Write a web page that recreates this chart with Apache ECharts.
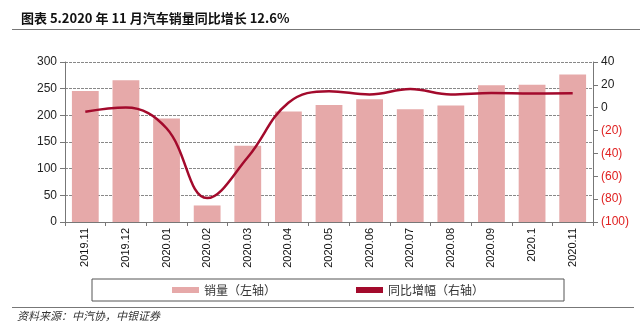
<!DOCTYPE html>
<html><head><meta charset="utf-8">
<script src="https://cdn.jsdelivr.net/npm/echarts@6/dist/echarts.min.js"></script>
<style>html,body{margin:0;padding:0;background:#fff}#c{width:640px;height:327px}</style>
</head><body><div id="c"></div>
<script>
const categories = ['2019.11','2019.12','2020.01','2020.02','2020.03','2020.04','2020.05','2020.06','2020.07','2020.08','2020.09','2020.1','2020.11'];
const sales = [245.4,265.6,194.1,31.0,143.1,207.0,219.4,230.0,211.2,218.6,256.5,257.3,276.6];
const yoy = [-3.6,0.1,-18.0,-79.1,-43.3,4.4,14.5,11.6,16.4,11.6,12.8,12.5,12.6];
const leftTicks = {min:0,max:300,interval:50};
const rightTicks = {min:-100,max:40,interval:20};
const titleText = '图表 5.2020 年 11 月汽车销量同比增长 12.6%';
const sourceText = '资料来源：中汽协，中银证券';
const salesName = '销量（左轴）';
const yoyName = '同比增幅（右轴）';

const chart = echarts.init(document.getElementById('c'), null, {renderer:'canvas'});
const font = '"Liberation Sans", Arial, "Noto Sans CJK SC", sans-serif';
chart.setOption({
  animation:false,
  textStyle:{fontFamily:font},
  title:{text:titleText,left:16,top:7,textStyle:{fontSize:13,fontWeight:'bold',color:'#111',fontFamily:'"Noto Sans CJK SC", sans-serif'}},
  graphic:[
    {type:'line',shape:{x1:12,y1:29.5,x2:640,y2:29.5},style:{stroke:'#777',lineWidth:1.2}},
    {type:'line',shape:{x1:12,y1:307.5,x2:634,y2:307.5},style:{stroke:'#777',lineWidth:1.2}},
    {type:'text',left:17,top:310,style:{text:sourceText,fontSize:11,fontStyle:'italic',fill:'#333',fontFamily:'"Noto Sans CJK SC", sans-serif'}}
  ],
  legend:{
    left:92, top:279, width:473,
    padding:[5,80,5,80],
    borderColor:'#555', borderWidth:1,
    itemWidth:27, itemHeight:6, itemGap:80,
    textStyle:{fontSize:12,color:'#333',fontFamily:'"Noto Sans CJK SC", sans-serif'},
    data:[{name:salesName,icon:'rect'},{name:yoyName,icon:'rect',itemStyle:{color:'#A30A2C'}}]
  },
  grid:{left:65,right:47,top:62,bottom:105,containLabel:false},
  xAxis:{
    type:'category',data:categories,boundaryGap:true,
    axisLine:{lineStyle:{color:'#777'}},
    axisTick:{show:true,alignWithLabel:false,length:4,lineStyle:{color:'#777'}},
    axisLabel:{rotate:90,fontSize:11,color:'#111',margin:6,interval:0}
  },
  yAxis:[
    {type:'value',min:leftTicks.min,max:leftTicks.max,interval:leftTicks.interval,
     axisLine:{show:true,lineStyle:{color:'#777'}},
     axisTick:{show:true,length:5,lineStyle:{color:'#777'}},
     axisLabel:{fontSize:12,color:'#222',margin:8},
     splitLine:{show:true,lineStyle:{color:'#888',type:[3,1],width:1}}},
    {type:'value',min:rightTicks.min,max:rightTicks.max,interval:rightTicks.interval,position:'right',
     axisLine:{show:true,lineStyle:{color:'#777'}},
     axisTick:{show:true,length:5,lineStyle:{color:'#777'}},
     splitLine:{show:false},
     axisLabel:{fontSize:12,margin:8,
       formatter:function(v){return v<0?'{n|('+(-v)+')}':'{p|'+v+'}';},
       rich:{n:{color:'#e02020',fontSize:12},p:{color:'#222',fontSize:12}}}}
  ],
  series:[
    {name:salesName,type:'bar',data:sales,yAxisIndex:0,barCategoryGap:'34%',
     itemStyle:{color:'#E6A9A9'}},
    {name:yoyName,type:'line',data:yoy,yAxisIndex:1,smooth:0.4,symbol:'none',z:5,
     lineStyle:{color:'#A30A2C',width:2.5},itemStyle:{color:'#A30A2C'}}
  ]
});
</script></body></html>
